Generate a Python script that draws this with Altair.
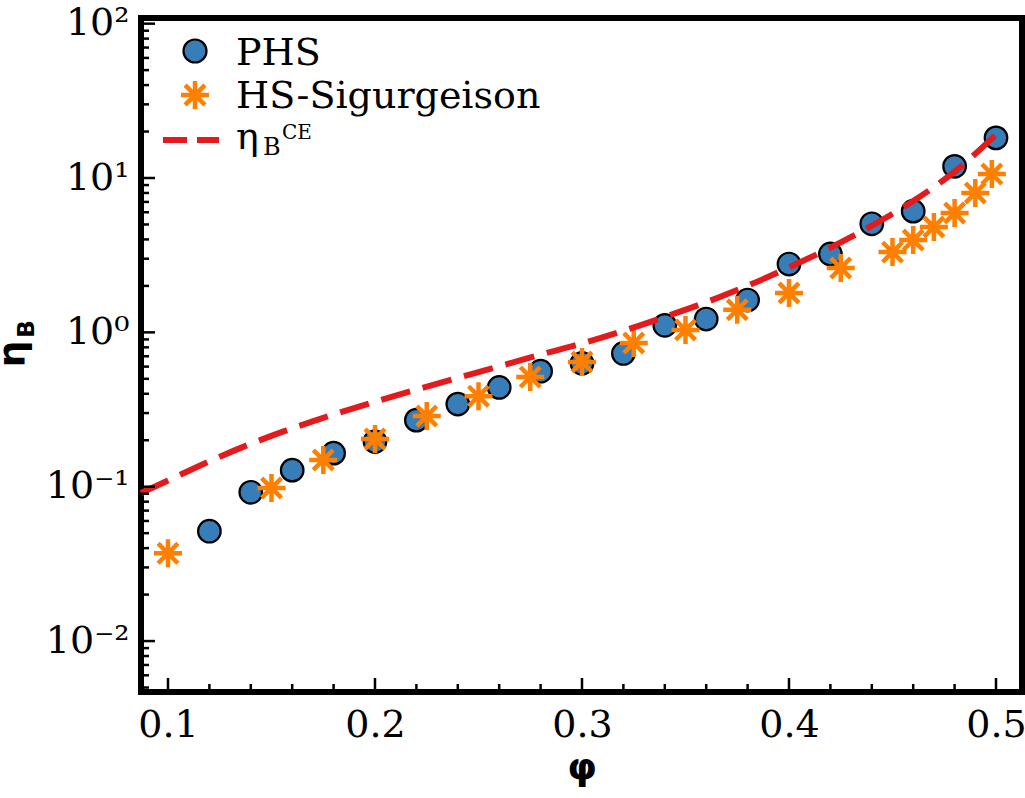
import altair as alt
import pandas as pd

# ---- data ----
phs_x = [0.12, 0.14, 0.16, 0.18, 0.20, 0.22, 0.24, 0.26, 0.28, 0.30,
         0.32, 0.34, 0.36, 0.38, 0.40, 0.42, 0.44, 0.46, 0.48, 0.50]
phs_y = [0.0515, 0.092, 0.128, 0.165, 0.196, 0.27, 0.343, 0.44, 0.56, 0.63,
         0.73, 1.11, 1.22, 1.62, 2.77, 3.22, 5.05, 6.1, 11.9, 18.2]

hs_x = [0.10, 0.15, 0.175, 0.20, 0.225, 0.25, 0.275, 0.30, 0.325, 0.35,
        0.375, 0.40, 0.425, 0.45, 0.46, 0.47, 0.48, 0.49, 0.498]
hs_y = [0.037, 0.098, 0.149, 0.204, 0.287, 0.386, 0.513, 0.643, 0.853, 1.035,
        1.40, 1.80, 2.61, 3.31, 3.96, 4.81, 5.93, 8.0, 10.6]

ce_x = [0.087, 0.10, 0.12, 0.14, 0.16, 0.18, 0.20, 0.22, 0.24, 0.26, 0.28,
        0.30, 0.32, 0.34, 0.36, 0.38, 0.40, 0.42, 0.44, 0.46, 0.48, 0.50]
ce_y = [0.091, 0.1096, 0.1462, 0.1897, 0.2388, 0.2938, 0.3556, 0.4256, 0.507, 0.6026, 0.7178,
        0.8472, 1.023, 1.259, 1.567, 2.005, 2.636, 3.54, 4.909, 7.096, 10.99, 19.1]

x_major = [0.1, 0.2, 0.3, 0.4, 0.5]
x_minor = [0.12, 0.14, 0.16, 0.18, 0.22, 0.24, 0.26, 0.28, 0.32, 0.34, 0.36, 0.38,
           0.42, 0.44, 0.46, 0.48]
y_major = [0.01, 0.1, 1, 10, 100]
y_minor = [m * d for d in [0.001, 0.01, 0.1, 1, 10] for m in range(2, 10)]
y_tick_labels = ["10⁻²", "10⁻¹", "10⁰", "10¹", "10²"]

legend_labels = ["PHS", "HS-Sigurgeison"]

# ---- styling ----
W, H = 881, 674
XDOM = [0.08696, 0.51256]
YDOM = [0.004677, 108.8]
BLUE, ORANGE, RED = "#377eb8", "#ff7f00", "#e41a1c"
SERIF = "DejaVu Serif"
STAR = "M0,-1L0,1M-1,0L1,0M-0.7071,-0.7071L0.7071,0.7071M-0.7071,0.7071L0.7071,-0.7071"

y_lab_expr = " : ".join(
    [f"datum.value > {v*0.5} ? '{l}'" for v, l in reversed(list(zip(y_major, y_tick_labels)))]
) + " : ''"

xscale = alt.Scale(domain=XDOM, nice=False, zero=False)
yscale = alt.Scale(type="log", domain=YDOM, nice=False)

xaxis = alt.Axis(values=x_major, format=".1f", ticks=False, domain=False, grid=False,
                 labelFont=SERIF, labelFontSize=38, labelColor="black", labelPadding=14,
                 labelFlush=False, title="φ", titleFont="DejaVu Sans", titleFontWeight="bold",
                 titleFontSize=38, titleColor="black", titlePadding=4)
yaxis = alt.Axis(values=y_major, labelExpr=y_lab_expr, ticks=False, domain=False, grid=False,
                 labelFont=SERIF, labelFontSize=38, labelColor="black", labelPadding=12,
                 labelFlush=False, title=None)

def X(**kw):
    return alt.X("x:Q", scale=xscale, **kw)

def Y(**kw):
    return alt.Y("y:Q", scale=yscale, **kw)

phs = pd.DataFrame({"x": phs_x, "y": phs_y})
hs = pd.DataFrame({"x": hs_x, "y": hs_y})
ce = pd.DataFrame({"x": ce_x, "y": ce_y})

circles = alt.Chart(phs).mark_point(
    shape="circle", filled=True, fill=BLUE, stroke="black", strokeWidth=2.2,
    size=510, opacity=1
).encode(x=X(axis=xaxis), y=Y(axis=yaxis))

stars = alt.Chart(hs).mark_point(
    shape=STAR, filled=False, stroke=ORANGE, strokeWidth=4.5, size=784, opacity=1
).encode(x=X(), y=Y())

line = alt.Chart(ce).mark_line(
    color=RED, strokeWidth=6, strokeDash=[30, 13], interpolate="monotone"
).encode(x=X(), y=Y())

# inward ticks
xt_major = alt.Chart(pd.DataFrame({"x": x_major})).mark_rule(color="black", strokeWidth=2.5).encode(
    x=X(), y=alt.value(H), y2=alt.value(H - 14))
xt_minor = alt.Chart(pd.DataFrame({"x": x_minor})).mark_rule(color="black", strokeWidth=2.5).encode(
    x=X(), y=alt.value(H), y2=alt.value(H - 8))
yt_major = alt.Chart(pd.DataFrame({"y": y_major})).mark_rule(color="black", strokeWidth=2.5).encode(
    y=Y(), x=alt.value(0), x2=alt.value(14))
yt_minor = alt.Chart(pd.DataFrame({"y": [v for v in y_minor if YDOM[0] <= v <= YDOM[1]]})).mark_rule(
    color="black", strokeWidth=2.5).encode(y=Y(), x=alt.value(0), x2=alt.value(8))

# legend
one = pd.DataFrame({"k": [0]})
leg_circle = alt.Chart(one).mark_point(
    shape="circle", filled=True, fill=BLUE, stroke="black", strokeWidth=2.2, size=530, opacity=1
).encode(x=alt.value(54), y=alt.value(33))
leg_star = alt.Chart(one).mark_point(
    shape=STAR, filled=False, stroke=ORANGE, strokeWidth=4.5, size=784, opacity=1
).encode(x=alt.value(54), y=alt.value(77))
leg_line = alt.Chart(one).mark_rule(color=RED, strokeWidth=6, strokeDash=[24, 10]).encode(
    x=alt.value(22), x2=alt.value(78), y=alt.value(122))
leg_text = alt.Chart(pd.DataFrame({"t": legend_labels, "yy": [47, 90]})).mark_text(
    align="left", baseline="alphabetic", font=SERIF, fontSize=38, color="black"
).encode(text="t:N", x=alt.value(95), y=alt.Y("yy:Q", scale=None))
leg_eta = alt.Chart(one).mark_text(align="left", baseline="alphabetic", font=SERIF,
                                   fontSize=38, color="black", text="η").encode(
    x=alt.value(95), y=alt.value(131))
leg_b = alt.Chart(one).mark_text(align="left", baseline="alphabetic", font=SERIF,
                                 fontSize=24, color="black", text="B").encode(
    x=alt.value(122), y=alt.value(137))
leg_ce = alt.Chart(one).mark_text(align="left", baseline="alphabetic", font=SERIF,
                                  fontSize=20, color="black", text="CE").encode(
    x=alt.value(141), y=alt.value(121))

# y-axis title eta_B (rotated)
ytitle_eta = alt.Chart(one).mark_text(align="center", baseline="alphabetic", font="DejaVu Sans",
                                      fontWeight="bold", fontSize=38, angle=270, color="black",
                                      text="η").encode(x=alt.value(24 - 141), y=alt.value(354 - 18))
ytitle_b = alt.Chart(one).mark_text(align="center", baseline="alphabetic", font="DejaVu Sans",
                                    fontWeight="bold", fontSize=23, angle=270, color="black",
                                    text="B").encode(x=alt.value(34 - 141), y=alt.value(329 - 18))

chart = alt.layer(
    circles, stars, line,
    xt_major, xt_minor, yt_major, yt_minor,
    leg_circle, leg_star, leg_line, leg_text, leg_eta, leg_b, leg_ce,
    ytitle_eta, ytitle_b,
).properties(
    width=W, height=H,
    autosize=alt.AutoSizeParams(type="none"),
    padding={"left": 141, "top": 18, "right": 3, "bottom": 106},
    background="white",
).configure_view(
    stroke="black", strokeWidth=6
)

chart.save("out.html", embed_options={"renderer": "svg", "actions": False})
